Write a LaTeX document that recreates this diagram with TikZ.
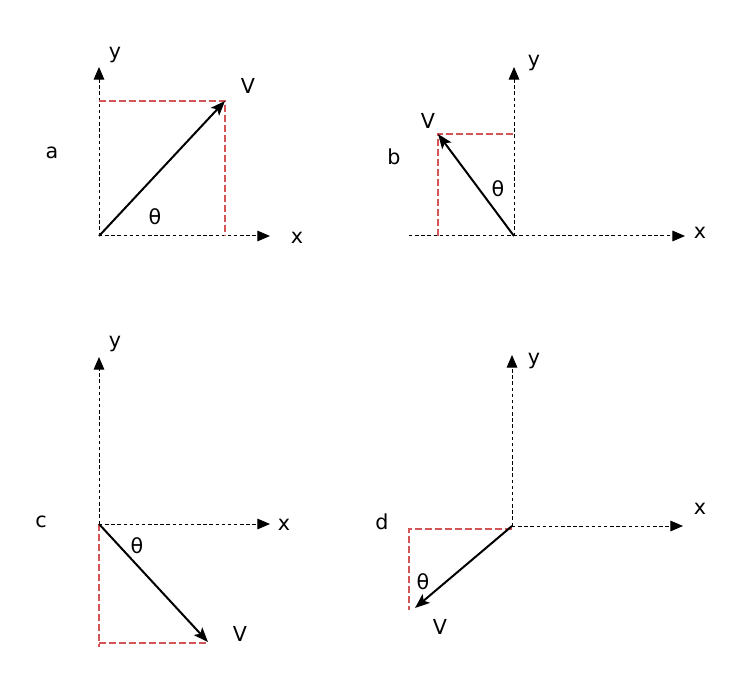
\documentclass[tikz,border=0pt]{standalone}
\usepackage{fontspec}
\setmainfont{DejaVu Sans}
\usetikzlibrary{arrows.meta}
\definecolor{compred}{RGB}{212,85,85}
\tikzset{
  axis/.style={line width=0.75pt, dash pattern=on 2.6pt off 2pt, -{Triangle[length=9.5pt,width=8pt]}},
  comp/.style={compred, line width=0.9pt, dash pattern=on 5pt off 2.5pt},
  vec/.style={line width=1.5pt, -{Stealth[length=11pt,width=8.5pt,inset=2.5pt]}},
  lbl/.style={font=\fontsize{15.5}{18}\selectfont, inner sep=0pt},
}
\begin{document}
\begin{tikzpicture}[x=0.75pt,y=-0.75pt]
        \useasboundingbox (0,0) rectangle (748,673);
        % panel a
        \coordinate (oa) at (99,236);
        \coordinate (ya) at (99,67);
        \coordinate (xa) at (270,236);
        \coordinate (va) at (225,101);
        % panel b
        \coordinate (ob) at (514,236);
        \coordinate (yb) at (514,67);
        \coordinate (xb0) at (409,236);
        \coordinate (xb) at (685,236);
        \coordinate (vb) at (438,134);
        % panel c
        \coordinate (oc) at (99,524);
        \coordinate (yc) at (99,357);
        \coordinate (xc) at (270,524);
        \coordinate (vc) at (208,642);
        \coordinate (cc) at (99,647);
        % panel d
        \coordinate (od) at (512,526);
        \coordinate (yd) at (512,355);
        \coordinate (xd) at (683,526);
        \coordinate (vd) at (415,608);
        \coordinate (cd) at (409,529);
        \coordinate (cd2) at (409,610);

        \begin{scope}[every path/.style={axis}]
          \draw (oa) -- (ya);
          \draw (oa) -- (xa);
          \draw (ob) -- (yb);
          \draw (xb0) -- (xb);
          \draw (oc) -- (yc);
          \draw (oc) -- (xc);
          \draw (od) -- (yd);
          \draw (od) -- (xd);
        \end{scope}

        \begin{scope}[comp]
          \draw (oa |- va) -- (va) -- (va |- oa);
          \draw (vb |- ob) -- (vb) -- (ob |- vb);
          \draw (oc) -- (cc);
          \draw (oc |- vc) ++(0,1) -- ([yshift=-0.75pt]vc);
          \draw (od) ++(0,3) -- (cd) -- (cd2);
        \end{scope}

        \begin{scope}[vec]
          \draw (oa) -- (va);
          \draw (ob) -- (vb);
          \draw (oc) -- (vc);
          \draw (od) -- (vd);
        \end{scope}

        \begin{scope}[every node/.style={lbl}]
          \node (la) at (52,153) {a};
          \node (ya-l) at (115,55) {y};
          \node (xa-l) at (297,238) {x};
          \node (va-l) at (248,86) {V};
          \node (ta) at (155,217) {θ};

          \node (lb) at (394,157) {b};
          \node (yb-l) at (534,63) {y};
          \node (xb-l) at (700,233) {x};
          \node (vb-l) at (428,121) {V};
          \node (tb) at (498,189) {θ};

          \node (lc) at (41,522) {c};
          \node (yc-l) at (115,344) {y};
          \node (xc-l) at (284,525) {x};
          \node (vc-l) at (240,634) {V};
          \node (tc) at (137,546) {θ};

          \node (ld) at (382,522) {d};
          \node (yd-l) at (534,361) {y};
          \node (xd-l) at (700,509) {x};
          \node (vd-l) at (440,627) {V};
          \node (td) at (423,582) {θ};
        \end{scope}
      \end{tikzpicture}
\end{document}
